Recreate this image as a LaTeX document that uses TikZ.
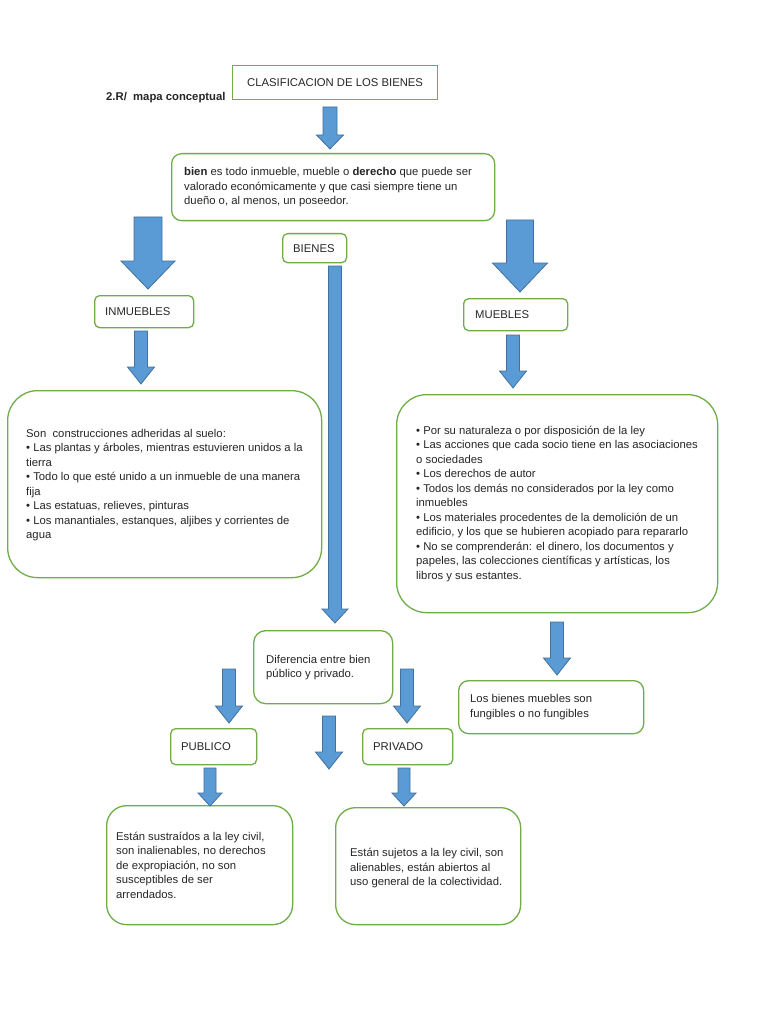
\documentclass[tikz,border=0pt]{standalone}
\usepackage{fontspec}
\setmainfont{Liberation Sans}
\newcommand\bluearrow[6]{%
  \filldraw[barrow] ({#1-#4/2},#2) -- ({#1+#4/2},#2) -- ({#1+#4/2},{#3-#6}) -- ({#1+#5/2},{#3-#6}) -- (#1,#3) -- ({#1-#5/2},{#3-#6}) -- ({#1-#4/2},{#3-#6}) -- cycle;}
\begin{document}
\begin{tikzpicture}[x=1pt,y=-1pt,
  every node/.style={font=\fontsize{11.3}{14.5}\selectfont, text=black!85},
  box/.style={draw=boxgreen, line width=1.3pt, fill=white, anchor=north west, inner sep=0pt},
  txt/.style={anchor=west, align=left, inner sep=0pt},
  barrow/.style={fill=arrowblue, draw=arrowedge, line width=0.8pt, line join=miter}]
\definecolor{boxgreen}{HTML}{70AD47}
\definecolor{arrowblue}{HTML}{5B9BD5}
\definecolor{arrowedge}{HTML}{41719C}
\useasboundingbox (0,0) rectangle (768,1024);
\fill[white] (0,0) rectangle (768,1024);

% title
\node[box, rounded corners=0pt, minimum width=205pt, minimum height=34pt] (title) at (232,65) {};
\node[txt] (titletxt) at ([xshift=15pt]title.west) {CLASIFICACION DE LOS BIENES};
\node[txt, font=\bfseries\fontsize{11.3}{14.5}\selectfont] (mapa) at (106,98) {2.R/\ \ mapa conceptual};

% definition
\node[box, rounded corners=10pt, minimum width=323pt, minimum height=67pt] (bien) at (171,153) {};
\node[txt] (bientxt) at ([xshift=13pt]bien.west) {\textbf{bien} es todo inmueble, mueble o \textbf{derecho} que puede ser\\valorado económicamente y que casi siempre tiene un\\dueño o, al menos, un poseedor.};

% BIENES
\node[box, rounded corners=5pt, minimum width=64pt, minimum height=29pt] (bienes) at (282,233) {};
\node[txt] (bienestxt) at ([xshift=11pt]bienes.west) {BIENES};

% INMUEBLES / MUEBLES
\node[box, rounded corners=5pt, minimum width=99pt, minimum height=32pt] (inm) at (94,295) {};
\node[txt] (inmtxt) at ([xshift=11pt]inm.west) {INMUEBLES};
\node[box, rounded corners=5pt, minimum width=104pt, minimum height=32pt] (mue) at (463,298) {};
\node[txt] (muetxt) at ([xshift=12pt]mue.west) {MUEBLES};

% big left box
\node[box, rounded corners=30pt, minimum width=314pt, minimum height=187pt] (inmbox) at (7,390) {};
\node[txt] (inmboxtxt) at ([xshift=19pt,yshift=-1pt]inmbox.west) {Son\ \ construcciones adheridas al suelo:\\• Las plantas y árboles, mientras estuvieren unidos a la\\tierra\\• Todo lo que esté unido a un inmueble de una manera\\fija\\• Las estatuas, relieves, pinturas\\• Los manantiales, estanques, aljibes y corrientes de\\agua};

% big right box
\node[box, rounded corners=30pt, minimum width=321pt, minimum height=218pt] (muebox) at (396,394) {};
\node[txt] (mueboxtxt) at ([xshift=20pt]muebox.west) {• Por su naturaleza o por disposición de la ley\\• Las acciones que cada socio tiene en las asociaciones\\o sociedades\\• Los derechos de autor\\• Todos los demás no considerados por la ley como\\inmuebles\\• Los materiales procedentes de la demolición de un\\edificio, y los que se hubieren acopiado para repararlo\\• No se comprenderán: el dinero, los documentos y\\papeles, las colecciones científicas y artísticas, los\\libros y sus estantes.};

% diferencia
\node[box, rounded corners=12pt, minimum width=139pt, minimum height=73pt] (dif) at (253,630) {};
\node[txt] (diftxt) at ([xshift=13pt,yshift=-0.5pt]dif.west) {Diferencia entre bien\\público y privado.};

% fungibles
\node[box, rounded corners=10pt, minimum width=185pt, minimum height=53pt] (fung) at (458,680) {};
\node[txt] (fungtxt) at ([xshift=12pt]fung.west) {Los bienes muebles son\\fungibles o no fungibles};

% PUBLICO / PRIVADO
\node[box, rounded corners=5pt, minimum width=86pt, minimum height=36pt] (pub) at (170,728) {};
\node[txt] (pubtxt) at ([xshift=11pt]pub.west) {PUBLICO};
\node[box, rounded corners=5pt, minimum width=90pt, minimum height=36pt] (priv) at (362,728) {};
\node[txt] (privtxt) at ([xshift=11pt]priv.west) {PRIVADO};

% bottom boxes
\node[box, rounded corners=20pt, minimum width=186pt, minimum height=119pt] (pubbox) at (106,805) {};
\node[txt] (pubboxtxt) at ([xshift=10pt]pubbox.west) {Están sustraídos a la ley civil,\\son inalienables, no derechos\\de expropiación, no son\\susceptibles de ser\\arrendados.};
\node[box, rounded corners=20pt, minimum width=185pt, minimum height=117pt] (privbox) at (335,807) {};
\node[txt] (privboxtxt) at ([xshift=15pt,yshift=-2pt]privbox.west) {Están sujetos a la ley civil, son\\alienables, están abiertos al\\uso general de la colectividad.};

% block arrows
\bluearrow{330}{107}{149}{14}{27}{14}
\bluearrow{148}{217}{289}{28}{54}{28}
\bluearrow{520}{220}{292}{27}{55}{29}
\bluearrow{335}{266}{623}{13}{26}{14}
\bluearrow{141}{331}{384}{13}{27}{17}
\bluearrow{513}{335}{388}{13}{27}{17}
\bluearrow{557}{622}{675}{13}{27}{17}
\bluearrow{229}{669}{723}{13}{27}{17}
\bluearrow{407}{669}{723}{13}{27}{17}
\bluearrow{329}{716}{769}{13}{27}{17}
\bluearrow{210}{768}{806}{12}{24}{13}
\bluearrow{404}{768}{806}{12}{24}{13}
\end{tikzpicture}
\end{document}
